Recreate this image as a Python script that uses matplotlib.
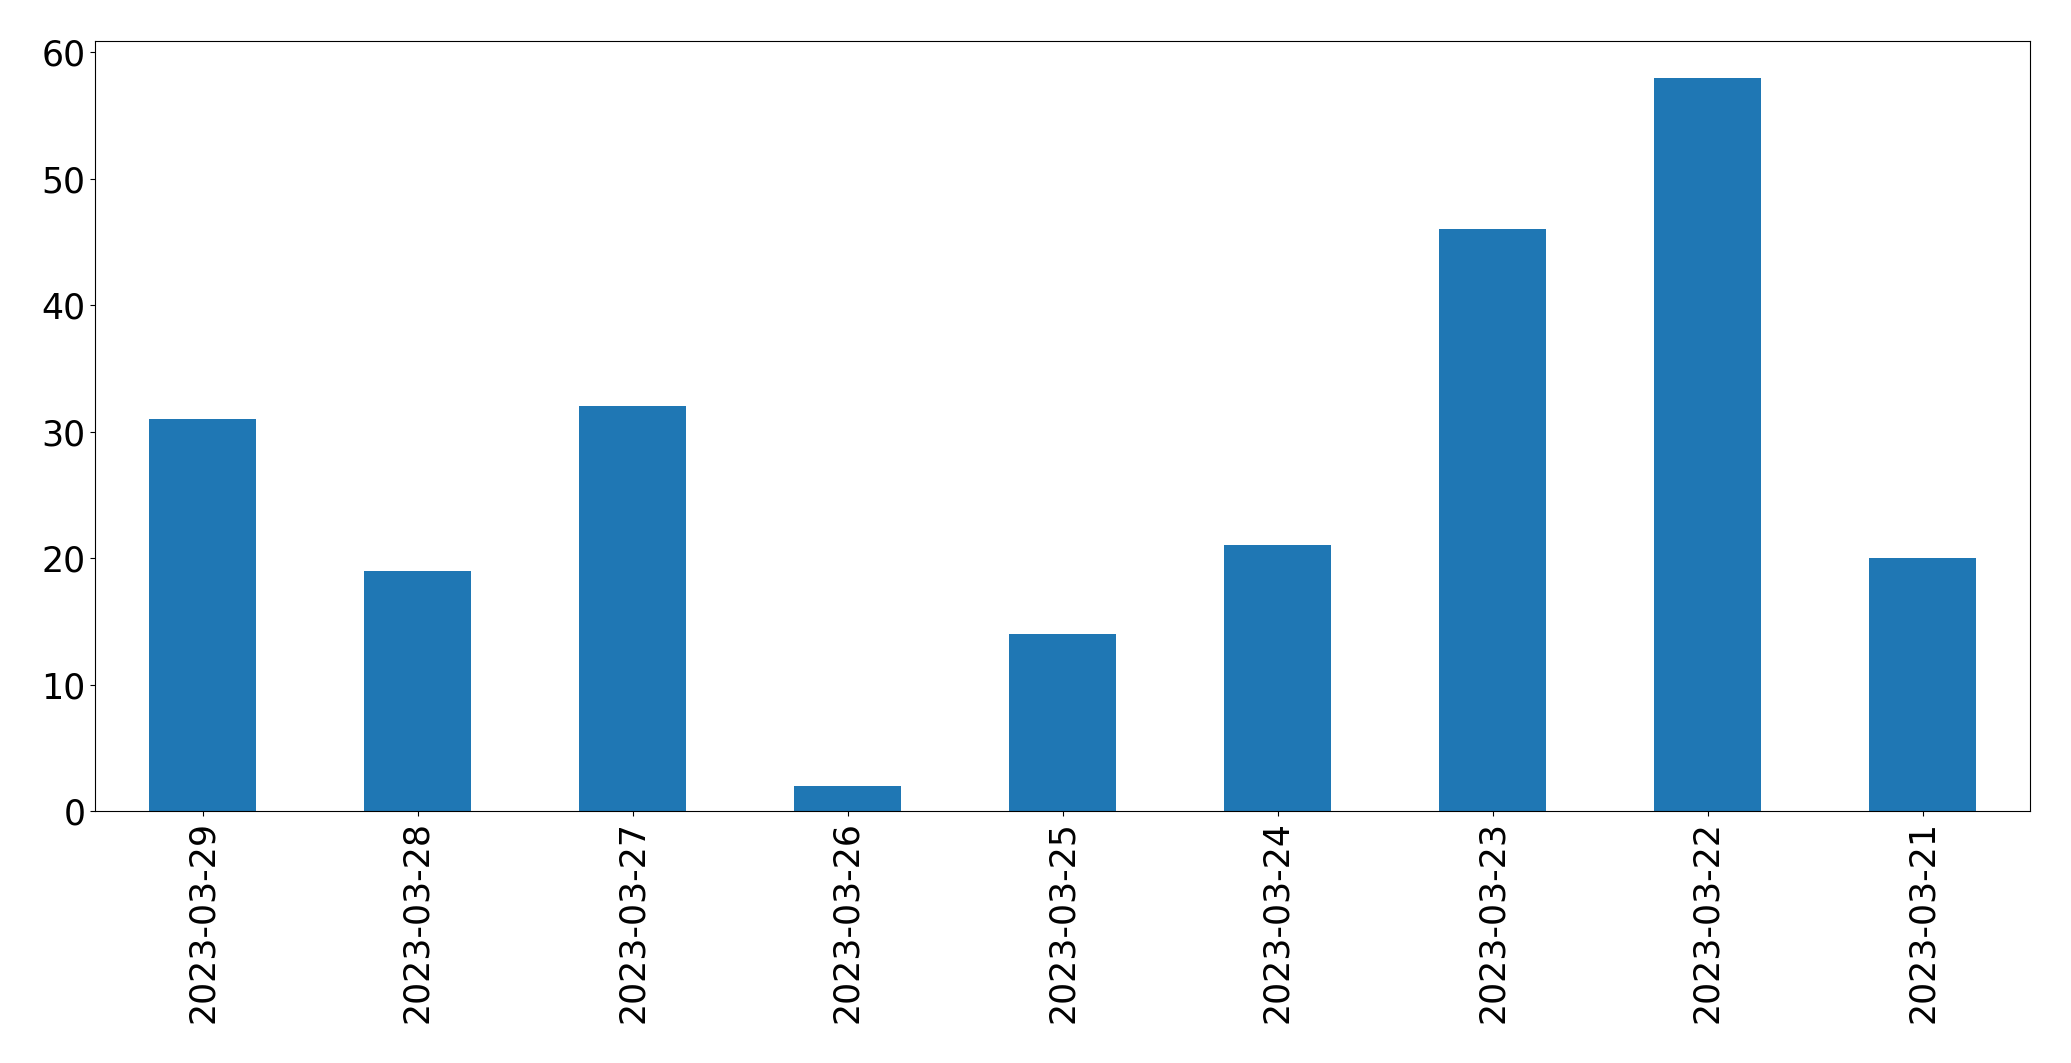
import numpy as np
import matplotlib
matplotlib.use("Agg")
import matplotlib.pyplot as plt

dates = ["2023-03-29", "2023-03-28", "2023-03-27", "2023-03-26", "2023-03-25",
         "2023-03-24", "2023-03-23", "2023-03-22", "2023-03-21"]
counts = [31, 19, 32, 2, 14, 21, 46, 58, 20]

fig = plt.figure(figsize=(20.71, 10.63), dpi=100)
ax = fig.add_axes([95 / 2071, 1 - 811 / 1063, (2030 - 95) / 2071, (811 - 41) / 1063])

x = np.arange(len(dates))
ax.bar(x, counts, width=0.5, color="#1f77b4")
ax.set_xlim(-0.5, len(dates) - 0.5)
ax.set_xticks(x)
ax.set_xticklabels(dates, rotation=90)
ax.tick_params(axis="both", labelsize=25)

plt.savefig("out.png", dpi=100)
